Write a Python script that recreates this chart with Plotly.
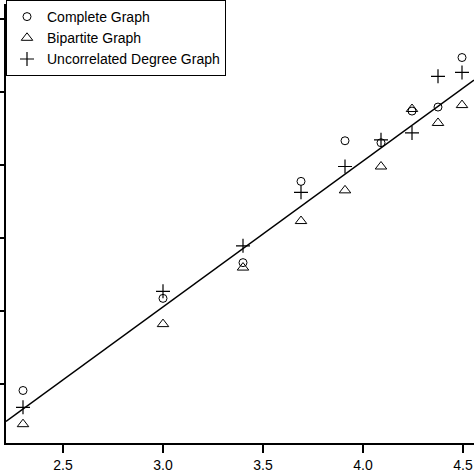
import plotly.graph_objects as go

# data
x_vals = [2.3, 3.0, 3.4, 3.69, 3.91, 4.09, 4.245, 4.375, 4.495]
complete = [0.905, 2.168, 2.658, 3.772, 4.329, 4.302, 4.736, 4.791, 5.470]
bipartite = [0.443, 1.815, 2.590, 3.228, 3.649, 3.976, 4.764, 4.573, 4.818]
uncorrelated = [0.674, 2.264, 2.889, 3.622, 3.976, 4.342, 4.437, 5.212, 5.266]
fit_slope = 2.0
fit_intercept = -3.95
x_ticks = [2.5, 3.0, 3.5, 4.0, 4.5]
x_tick_labels = ["2.5", "3.0", "3.5", "4.0", "4.5"]
y_ticks = [1, 2, 3, 4, 5, 6]

x_range = [2.215, 4.555]
y_range = [0.185, 6.204]

FONT = "Liberation Sans, Arial, sans-serif"

fig = go.Figure()
fig.add_trace(go.Scatter(x=x_vals, y=complete, mode="markers", name="Complete Graph",
                         marker=dict(symbol="circle-open", size=8, color="black", line=dict(width=1))))
fig.add_trace(go.Scatter(x=x_vals, y=bipartite, mode="markers", name="Bipartite Graph",
                         marker=dict(symbol="triangle-up-open", size=10, color="black", line=dict(width=1))))
fig.add_trace(go.Scatter(x=x_vals, y=uncorrelated, mode="markers", name="Uncorrelated Degree Graph",
                         marker=dict(symbol="cross-thin-open", size=10, color="black", line=dict(width=1.2))))
line_x = list(x_range)
line_y = [fit_intercept + fit_slope * v for v in line_x]
fig.add_trace(go.Scatter(x=line_x, y=line_y, mode="lines", showlegend=False,
                         line=dict(color="black", width=1.5)))

fig.update_layout(
    width=474, height=474,
    margin=dict(l=6, r=0, t=0, b=31),
    paper_bgcolor="white", plot_bgcolor="white",
    font=dict(family=FONT, size=14, color="black"),
    legend=dict(x=0, y=1.01, xanchor="left", yanchor="top",
                bordercolor="black", borderwidth=1, bgcolor="white",
                font=dict(size=14), itemwidth=30, tracegroupgap=0),
)
fig.update_xaxes(range=x_range, showgrid=False, zeroline=False, showline=True,
                 linecolor="black", linewidth=1.5, mirror=False,
                 ticks="outside", ticklen=8, tickwidth=1.5, tickcolor="black",
                 tickvals=x_ticks, ticktext=x_tick_labels, automargin=False,
                 tickfont=dict(size=14))
fig.update_yaxes(range=y_range, showgrid=False, zeroline=False, showline=True,
                 linecolor="black", linewidth=1.5,
                 ticks="outside", ticklen=9, tickwidth=1.5, tickcolor="black",
                 tickvals=y_ticks, showticklabels=False, automargin=False)

fig.write_html("out.html")
